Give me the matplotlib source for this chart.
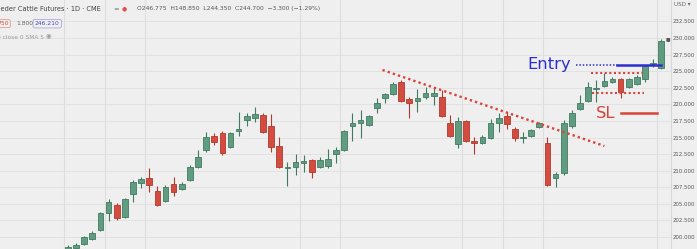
import numpy as np
import matplotlib
matplotlib.use("Agg")
import matplotlib.pyplot as plt

# %% Data (daily OHLC)
opens = [198.19, 198.41, 198.94, 199.70, 201.06, 203.62, 204.82, 203.02, 206.48, 208.14,
         208.90, 206.94, 205.43, 207.99, 207.24, 208.59, 210.55, 213.12, 215.23, 215.68,
         213.57, 215.98, 217.64, 217.94, 218.39, 216.73, 213.72, 210.33, 210.55, 211.16,
         211.61, 210.55, 210.70, 212.51, 213.12, 216.73, 217.19, 216.88, 219.45, 220.96,
         221.56, 223.37, 220.80, 220.50, 221.11, 221.26, 221.11, 217.19, 214.02, 217.49,
         214.47, 214.17, 214.92, 217.19, 218.24, 216.28, 214.97, 215.23, 216.58, 214.17,
         208.90, 209.65, 216.73, 219.30, 220.50, 222.36, 222.77, 223.37, 223.82, 222.61,
         223.07, 223.82, 226.13, 225.48]
highs = [198.79, 199.10, 200.15, 200.91, 203.77, 205.73, 205.13, 205.88, 208.59, 209.05,
         210.40, 207.69, 207.84, 209.05, 208.29, 210.85, 213.12, 215.83, 215.68, 215.98,
         215.83, 218.84, 218.69, 219.60, 218.69, 218.54, 215.08, 211.31, 212.51, 212.36,
         211.76, 212.06, 213.27, 213.57, 216.13, 218.69, 219.15, 218.39, 220.96, 221.71,
         223.37, 223.67, 221.11, 222.31, 222.61, 222.61, 222.16, 218.39, 218.09, 217.64,
         215.08, 215.38, 217.79, 218.69, 218.84, 216.58, 215.83, 216.28, 217.34, 215.08,
         209.80, 217.64, 219.15, 221.40, 223.37, 223.67, 224.72, 224.12, 223.97, 223.97,
         224.42, 225.93, 226.83, 229.85]
lows = [198.04, 198.34, 198.79, 199.55, 200.91, 202.41, 202.56, 202.87, 205.28, 207.39,
        206.78, 204.67, 205.28, 206.18, 207.09, 208.44, 210.40, 212.81, 213.87, 212.36,
        213.42, 215.23, 216.73, 217.34, 215.68, 212.81, 210.40, 207.69, 209.35, 209.80,
        208.90, 210.40, 210.40, 211.16, 212.97, 214.47, 214.92, 216.73, 218.69, 220.20,
        221.40, 220.35, 217.94, 218.84, 220.80, 219.90, 218.09, 215.08, 213.42, 214.32,
        212.51, 214.02, 214.77, 215.83, 216.28, 214.47, 214.17, 215.08, 216.43, 207.69,
        207.54, 209.35, 216.43, 219.15, 220.35, 220.35, 222.61, 223.22, 220.96, 222.46,
        222.92, 223.37, 225.63, 225.33]
closes = [198.49, 198.79, 200.00, 200.60, 203.62, 205.28, 202.87, 205.73, 208.29, 208.74,
          207.84, 204.82, 207.54, 206.78, 207.99, 210.55, 212.06, 215.08, 214.32, 212.66,
          215.68, 216.28, 218.24, 218.54, 215.83, 213.57, 210.55, 210.55, 211.31, 211.46,
          209.80, 211.61, 211.76, 213.12, 215.98, 217.19, 217.64, 218.24, 220.20, 221.56,
          223.07, 220.50, 220.20, 220.96, 221.71, 221.71, 218.24, 215.23, 217.49, 214.47,
          214.17, 215.08, 217.19, 217.94, 217.04, 214.92, 215.08, 216.13, 217.19, 207.84,
          209.50, 217.19, 218.69, 220.20, 222.61, 222.46, 223.52, 223.82, 221.86, 223.82,
          224.12, 225.78, 226.23, 229.55]

price_ticks = [200.0, 202.5, 205.0, 207.5, 210.0, 212.5, 215.0, 217.5,
               220.0, 222.5, 225.0, 227.5, 230.0, 232.5]
week_lines = [-1, 4, 9, 28, 33, 48, 53, 58, 72]

# drawn annotations (bar index, price)
trend_x = [38.7, 66.0]
trend_y = [225.18, 213.72]
entry_price = 225.93
entry_dotted = [62.5, 67.6]
entry_solid = [67.6, 73.0]
sl_price = 218.69
sl_span = [68.0, 72.5]
box_top = 224.68
box_bottom = 221.78
box_top_span = [64.4, 70.7]
box_bottom_span = [64.5, 70.9]

# %% Style
BG = "#efefef"
GRID = "#e2e2e2"
GREEN, GREEN_EDGE = "#5f9c80", "#417a62"
RED, RED_EDGE = "#d44c3f", "#b0392d"
BLUE = "#2c2fd0"
LINE_RED = "#d9433a"

fig = plt.figure(figsize=(6.97, 2.49), dpi=100, facecolor=BG)
ax = fig.add_axes([0, 0, 671 / 697, 1])
ax.set_facecolor(BG)

x = np.arange(len(opens))
o = np.array(opens); h = np.array(highs); l = np.array(lows); c = np.array(closes)
up = c >= o
face = np.where(up, GREEN, RED)
edge = np.where(up, GREEN_EDGE, RED_EDGE)

for p in price_ticks:
    ax.axhline(p, color=GRID, lw=0.7, zorder=0)
for w in week_lines:
    ax.axvline(w + 0.5, color="#dddddd", lw=0.8, zorder=0)

ax.vlines(x, l, h, colors=edge, lw=0.8, zorder=2)
body_lo = np.minimum(o, c)
body_h = np.maximum(np.abs(c - o), 0.08)
ax.bar(x, body_h, bottom=body_lo, width=0.7, color=face, edgecolor=edge,
       linewidth=0.6, zorder=3)

# trendline + trade levels
ax.plot(trend_x, trend_y, color=LINE_RED, lw=1.7, ls=(0, (1, 1.3)),
        dash_capstyle="butt", zorder=4)
ax.plot(entry_dotted, [entry_price] * 2, color=BLUE, lw=1.1, ls=(0, (1, 1.2)), zorder=4)
ax.plot(entry_solid, [entry_price] * 2, color=BLUE, lw=1.8, zorder=4)
ax.plot(box_top_span, [box_top] * 2, color=LINE_RED, lw=1.5, ls=(0, (1, 1.2)), zorder=4)
ax.plot(box_bottom_span, [box_bottom] * 2, color=LINE_RED, lw=1.5, ls=(0, (1, 1.2)), zorder=4)
ax.plot(sl_span, [sl_price] * 2, color=LINE_RED, lw=1.8, zorder=4)
ax.text(56.5, entry_price + 0.1, "Entry", color=BLUE, fontsize=11.8,
        ha="left", va="center", zorder=5)
ax.text(65.0, sl_price, "SL", color=LINE_RED, fontsize=11.8,
        ha="left", va="center", zorder=5)

ax.set_xlim(-8.36, 74.2)
ax.set_ylim(198.19, 235.73)
ax.yaxis.tick_right()
ax.set_yticks(price_ticks)
ax.set_yticklabels([f"{p:.3f}" for p in price_ticks], fontsize=3.9, color="#555555")
ax.tick_params(axis="y", length=0, pad=1.5)
ax.set_xticks([])
for side in ["top", "bottom", "left"]:
    ax.spines[side].set_visible(False)
ax.spines["right"].set_color("#d8d8d8")
ax.spines["right"].set_linewidth(0.8)

# header (TradingView legend)
fig.text(-0.010, 0.975, "Feeder Cattle Futures · 1D · CME", fontsize=4.8,
         color="#444444", va="top", ha="left")
fig.text(0.163, 0.975, "=", fontsize=4.8, color="#777777", va="top")
fig.text(0.174, 0.975, "●", fontsize=4.2, color="#e05050", va="top")
fig.text(0.197, 0.975, "O246.775  H148.850  L244.350  C244.700  −3.300 (−1.29%)",
         fontsize=4.3, color="#555555", va="top")
fig.text(-0.004, 0.915, "750", fontsize=4.3, color="#d44c3f", va="top",
         bbox=dict(boxstyle="round,pad=0.25", fc=BG, ec="#e08a80", lw=0.5))
fig.text(0.024, 0.915, "1.800", fontsize=4.3, color="#666666", va="top")
fig.text(0.050, 0.915, "246.210", fontsize=4.3, color="#4a4ac0", va="top",
         bbox=dict(boxstyle="round,pad=0.3", fc=BG, ec="#9a9ad8", lw=0.5))
fig.text(-0.004, 0.86, "0 close 0 SMA 5", fontsize=4.2, color="#9a9a9a", va="top")
fig.text(0.066, 0.865, "◉", fontsize=4.6, color="#999999", va="top")
fig.text(0.967, 0.99, "USD ▾", fontsize=4.1, color="#666666", va="top")
fig.text(0.955, 0.845, "■", fontsize=3.5, color="#555555", va="center")

fig.savefig("out.png", dpi=100, facecolor=BG)
